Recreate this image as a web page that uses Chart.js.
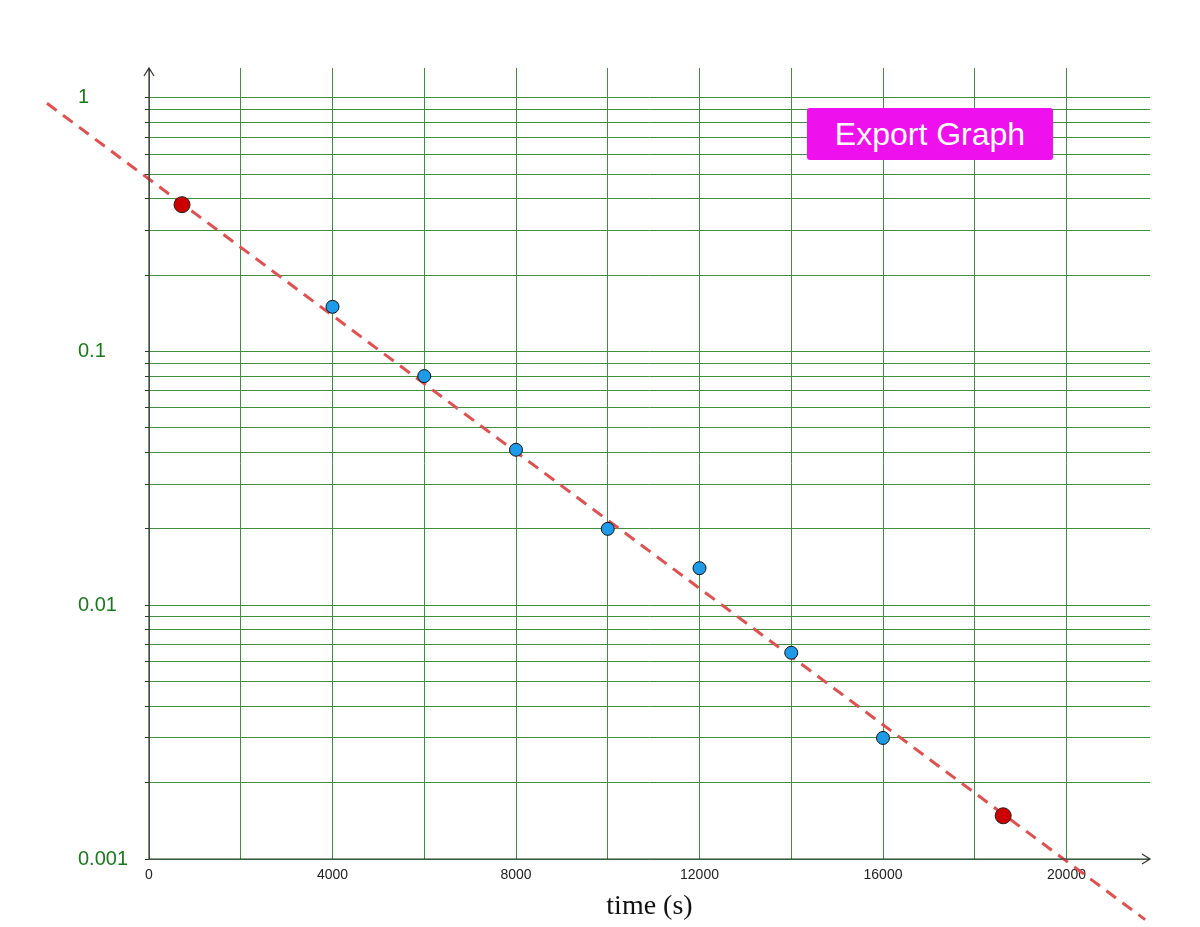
<!DOCTYPE html>
<html><head><meta charset="utf-8">
<script src="https://cdn.jsdelivr.net/npm/chart.js@4"></script>
<style>html,body{margin:0;padding:0;background:#fff}#wrap{position:relative;width:1200px;height:927px}
#btn{position:absolute;left:807px;top:108px;width:246px;height:52px;background:#ee11ee;color:#fff;font:32px "Liberation Sans",Arial,sans-serif;line-height:52px;text-align:center;border-radius:3px}</style>
</head><body><div id="wrap"><canvas id="c" width="1200" height="927"></canvas><div id="btn">Export Graph</div></div>
<script>
const blueT=[4000,6000,8000,10000,12000,14000,16000];
const blueV=[0.15,0.08,0.041,0.02,0.014,0.0065,0.003];
const redT=[720,18620];
const redV=[0.379,0.00148];
const fitT=[-2224,21714];
const fitV=[0.951,0.000577];
const xLabels=[0,4000,8000,12000,16000,20000];
const yLabels=[1,0.1,0.01,0.001];
const toXY=(t,v)=>t.map((x,i)=>({x,y:v[i]}));
const arrows={id:'arrows',afterDraw(ch){const c=ch.ctx,a=ch.chartArea;c.save();c.strokeStyle='#333';c.lineWidth=1.2;
c.beginPath();c.moveTo(a.left,a.bottom);c.lineTo(a.left,a.top);c.moveTo(a.left-5,a.top+8);c.lineTo(a.left,a.top);c.lineTo(a.left+5,a.top+8);
c.moveTo(a.left,a.bottom);c.lineTo(a.right,a.bottom);c.moveTo(a.right-8,a.bottom-5);c.lineTo(a.right,a.bottom);c.lineTo(a.right-8,a.bottom+5);c.stroke();c.restore();}};
new Chart(document.getElementById('c'),{
type:'scatter',
data:{datasets:[
{type:'line',data:toXY(fitT,fitV),borderColor:'#e05050',borderWidth:3,borderDash:[12,8],pointRadius:0,clip:false,order:2},
{data:toXY(blueT,blueV),backgroundColor:'#1e9be8',borderColor:'#111',borderWidth:1,pointRadius:6.5,order:1},
{data:toXY(redT,redV),backgroundColor:'#cc0000',borderColor:'#222',borderWidth:1,pointRadius:8,order:1}
]},
options:{responsive:false,animation:false,
layout:{padding:{left:78,top:68,right:50,bottom:0}},
plugins:{legend:{display:false},tooltip:{enabled:false}},
scales:{
x:{type:'linear',min:0,max:21820,
afterBuildTicks:s=>{s.ticks=[];for(let v=0;v<=20000;v+=2000)s.ticks.push({value:v});},
afterFit:s=>{s.height=68;},
grid:{color:'#3f8f3f',lineWidth:1,drawTicks:false},border:{display:false},
ticks:{color:'#222',font:{size:14,family:'Liberation Sans'},padding:8,maxRotation:0,autoSkip:false,
callback:v=>xLabels.includes(v)?String(v):''},
title:{display:true,text:'time (s)',color:'#111',font:{size:28,family:'Liberation Serif'},padding:{top:2}}},
y:{type:'logarithmic',min:0.001,max:1.31,
afterBuildTicks:s=>{const t=[];for(let e=-3;e<=0;e++)for(let m=1;m<=9;m++){const v=m*Math.pow(10,e);if(v<=1.0001&&v>=0.001)t.push({value:v,major:m===1});}s.ticks=t;},
afterFit:s=>{s.width=71;},
grid:{color:'#3f8f3f',lineWidth:1,tickLength:4,tickColor:'#333'},border:{display:false},
ticks:{color:'#1a7a1a',font:{size:20,family:'Liberation Sans'},crossAlign:'far',autoSkip:false,
callback:v=>{const r=yLabels.find(l=>Math.abs(l-v)/l<1e-6);return r!==undefined?String(r):'';}}}
}},
plugins:[arrows]});
</script></body></html>
